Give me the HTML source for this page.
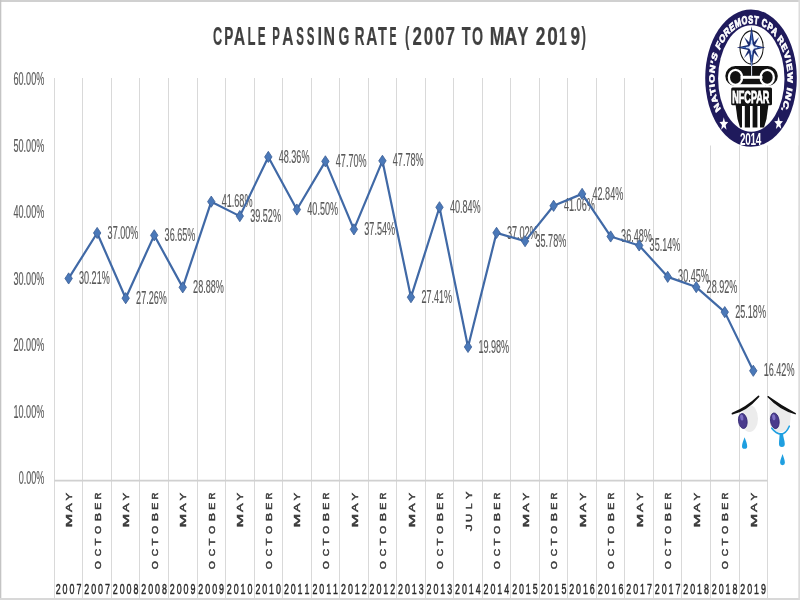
<!DOCTYPE html><html><head><meta charset="utf-8"><style>html,body{margin:0;padding:0;background:#fff;overflow:hidden}svg{display:block;filter:blur(0.3px)}text{font-family:"Liberation Sans",sans-serif}</style></head><body>
<svg width="800" height="600" viewBox="0 0 800 600">
<rect x="0" y="0" width="800" height="600" fill="#fff"/>
<rect x="0" y="0" width="800" height="2" fill="#d0d0d0"/>
<rect x="0" y="0" width="1.3" height="600" fill="#c4c4c4"/>
<rect x="0" y="598" width="800" height="2" fill="#d8d8d8"/>
<rect x="798.3" y="0" width="1.7" height="600" fill="#dcdcdc"/>
<text transform="translate(212.93,45) scale(0.500,1)" font-size="25.4" font-weight="bold" fill="#404040" stroke="#404040" stroke-width="0.2">C</text>
<text transform="translate(224.34,45) scale(0.535,1)" font-size="25.4" font-weight="bold" fill="#404040" stroke="#404040" stroke-width="0.2">P</text>
<text transform="translate(233.87,45) scale(0.621,1)" font-size="25.4" font-weight="bold" fill="#404040" stroke="#404040" stroke-width="0.2">A</text>
<text transform="translate(247.38,45) scale(0.514,1)" font-size="25.4" font-weight="bold" fill="#404040" stroke="#404040" stroke-width="0.2">L</text>
<text transform="translate(257.66,45) scale(0.464,1)" font-size="25.4" font-weight="bold" fill="#404040" stroke="#404040" stroke-width="0.2">E</text>
<text transform="translate(272.29,45) scale(0.446,1)" font-size="25.4" font-weight="bold" fill="#404040" stroke="#404040" stroke-width="0.2">P</text>
<text transform="translate(282.17,45) scale(0.609,1)" font-size="25.4" font-weight="bold" fill="#404040" stroke="#404040" stroke-width="0.2">A</text>
<text transform="translate(296.21,45) scale(0.454,1)" font-size="25.4" font-weight="bold" fill="#404040" stroke="#404040" stroke-width="0.2">S</text>
<text transform="translate(306.71,45) scale(0.454,1)" font-size="25.4" font-weight="bold" fill="#404040" stroke="#404040" stroke-width="0.2">S</text>
<text transform="translate(317.46,45) scale(0.648,1)" font-size="25.4" font-weight="bold" fill="#404040" stroke="#404040" stroke-width="0.2">I</text>
<text transform="translate(323.49,45) scale(0.628,1)" font-size="25.4" font-weight="bold" fill="#404040" stroke="#404040" stroke-width="0.2">N</text>
<text transform="translate(338.48,45) scale(0.548,1)" font-size="25.4" font-weight="bold" fill="#404040" stroke="#404040" stroke-width="0.2">G</text>
<text transform="translate(354.75,45) scale(0.531,1)" font-size="25.4" font-weight="bold" fill="#404040" stroke="#404040" stroke-width="0.2">R</text>
<text transform="translate(366.17,45) scale(0.609,1)" font-size="25.4" font-weight="bold" fill="#404040" stroke="#404040" stroke-width="0.2">A</text>
<text transform="translate(378.00,45) scale(0.571,1)" font-size="25.4" font-weight="bold" fill="#404040" stroke="#404040" stroke-width="0.2">T</text>
<text transform="translate(389.43,45) scale(0.415,1)" font-size="25.4" font-weight="bold" fill="#404040" stroke="#404040" stroke-width="0.2">E</text>
<text transform="translate(405.00,45) scale(0.516,1)" font-size="25.4" font-weight="bold" fill="#404040" stroke="#404040" stroke-width="0.2">(</text>
<text transform="translate(412.48,45) scale(0.664,1)" font-size="25.4" font-weight="bold" fill="#404040" stroke="#404040" stroke-width="0.2">2</text>
<text transform="translate(423.80,45) scale(0.660,1)" font-size="25.4" font-weight="bold" fill="#404040" stroke="#404040" stroke-width="0.2">0</text>
<text transform="translate(434.99,45) scale(0.664,1)" font-size="25.4" font-weight="bold" fill="#404040" stroke="#404040" stroke-width="0.2">0</text>
<text transform="translate(445.58,45) scale(0.673,1)" font-size="25.4" font-weight="bold" fill="#404040" stroke="#404040" stroke-width="0.2">7</text>
<text transform="translate(461.80,45) scale(0.574,1)" font-size="25.4" font-weight="bold" fill="#404040" stroke="#404040" stroke-width="0.2">T</text>
<text transform="translate(471.97,45) scale(0.560,1)" font-size="25.4" font-weight="bold" fill="#404040" stroke="#404040" stroke-width="0.2">O</text>
<text transform="translate(489.78,45) scale(0.696,1)" font-size="25.4" font-weight="bold" fill="#404040" stroke="#404040" stroke-width="0.2">M</text>
<text transform="translate(504.31,45) scale(0.725,1)" font-size="25.4" font-weight="bold" fill="#404040" stroke="#404040" stroke-width="0.2">A</text>
<text transform="translate(517.59,45) scale(0.644,1)" font-size="25.4" font-weight="bold" fill="#404040" stroke="#404040" stroke-width="0.2">Y</text>
<text transform="translate(535.66,45) scale(0.685,1)" font-size="25.4" font-weight="bold" fill="#404040" stroke="#404040" stroke-width="0.2">2</text>
<text transform="translate(547.31,45) scale(0.750,1)" font-size="25.4" font-weight="bold" fill="#404040" stroke="#404040" stroke-width="0.2">0</text>
<text transform="translate(558.98,45) scale(0.549,1)" font-size="25.4" font-weight="bold" fill="#404040" stroke="#404040" stroke-width="0.2">1</text>
<text transform="translate(570.46,45) scale(0.680,1)" font-size="25.4" font-weight="bold" fill="#404040" stroke="#404040" stroke-width="0.2">9</text>
<text transform="translate(581.54,45) scale(0.530,1)" font-size="25.4" font-weight="bold" fill="#404040" stroke="#404040" stroke-width="0.2">)</text>
<line x1="54.50" y1="78" x2="54.50" y2="598" stroke="#d9d9d9" stroke-width="1"/>
<line x1="82.50" y1="78" x2="82.50" y2="598" stroke="#d9d9d9" stroke-width="1"/>
<line x1="111.50" y1="78" x2="111.50" y2="598" stroke="#d9d9d9" stroke-width="1"/>
<line x1="139.50" y1="78" x2="139.50" y2="598" stroke="#d9d9d9" stroke-width="1"/>
<line x1="168.50" y1="78" x2="168.50" y2="598" stroke="#d9d9d9" stroke-width="1"/>
<line x1="197.50" y1="78" x2="197.50" y2="598" stroke="#d9d9d9" stroke-width="1"/>
<line x1="225.50" y1="78" x2="225.50" y2="598" stroke="#d9d9d9" stroke-width="1"/>
<line x1="254.50" y1="78" x2="254.50" y2="598" stroke="#d9d9d9" stroke-width="1"/>
<line x1="282.50" y1="78" x2="282.50" y2="598" stroke="#d9d9d9" stroke-width="1"/>
<line x1="311.50" y1="78" x2="311.50" y2="598" stroke="#d9d9d9" stroke-width="1"/>
<line x1="339.50" y1="78" x2="339.50" y2="598" stroke="#d9d9d9" stroke-width="1"/>
<line x1="368.50" y1="78" x2="368.50" y2="598" stroke="#d9d9d9" stroke-width="1"/>
<line x1="396.50" y1="78" x2="396.50" y2="598" stroke="#d9d9d9" stroke-width="1"/>
<line x1="425.50" y1="78" x2="425.50" y2="598" stroke="#d9d9d9" stroke-width="1"/>
<line x1="453.50" y1="78" x2="453.50" y2="598" stroke="#d9d9d9" stroke-width="1"/>
<line x1="482.50" y1="78" x2="482.50" y2="598" stroke="#d9d9d9" stroke-width="1"/>
<line x1="510.50" y1="78" x2="510.50" y2="598" stroke="#d9d9d9" stroke-width="1"/>
<line x1="539.50" y1="78" x2="539.50" y2="598" stroke="#d9d9d9" stroke-width="1"/>
<line x1="567.50" y1="78" x2="567.50" y2="598" stroke="#d9d9d9" stroke-width="1"/>
<line x1="596.50" y1="78" x2="596.50" y2="598" stroke="#d9d9d9" stroke-width="1"/>
<line x1="624.50" y1="78" x2="624.50" y2="598" stroke="#d9d9d9" stroke-width="1"/>
<line x1="653.50" y1="78" x2="653.50" y2="598" stroke="#d9d9d9" stroke-width="1"/>
<line x1="681.50" y1="78" x2="681.50" y2="598" stroke="#d9d9d9" stroke-width="1"/>
<line x1="710.50" y1="78" x2="710.50" y2="598" stroke="#d9d9d9" stroke-width="1"/>
<line x1="739.50" y1="78" x2="739.50" y2="598" stroke="#d9d9d9" stroke-width="1"/>
<line x1="767.50" y1="78" x2="767.50" y2="598" stroke="#d9d9d9" stroke-width="1"/>
<line x1="54.37" y1="480.6" x2="767.55" y2="480.6" stroke="#d0d0d0" stroke-width="1.6"/>
<text x="18.7" y="484.3" font-size="17.8" fill="#595959" stroke="#595959" stroke-width="0.15" textLength="25.6" lengthAdjust="spacingAndGlyphs">0.00%</text>
<text x="13.5" y="417.7" font-size="17.8" fill="#595959" stroke="#595959" stroke-width="0.15" textLength="30.8" lengthAdjust="spacingAndGlyphs">10.00%</text>
<text x="13.5" y="351.1" font-size="17.8" fill="#595959" stroke="#595959" stroke-width="0.15" textLength="30.8" lengthAdjust="spacingAndGlyphs">20.00%</text>
<text x="13.5" y="284.6" font-size="17.8" fill="#595959" stroke="#595959" stroke-width="0.15" textLength="30.8" lengthAdjust="spacingAndGlyphs">30.00%</text>
<text x="13.5" y="218.0" font-size="17.8" fill="#595959" stroke="#595959" stroke-width="0.15" textLength="30.8" lengthAdjust="spacingAndGlyphs">40.00%</text>
<text x="13.5" y="151.5" font-size="17.8" fill="#595959" stroke="#595959" stroke-width="0.15" textLength="30.8" lengthAdjust="spacingAndGlyphs">50.00%</text>
<text x="13.5" y="84.9" font-size="17.8" fill="#595959" stroke="#595959" stroke-width="0.15" textLength="30.8" lengthAdjust="spacingAndGlyphs">60.00%</text>
<text x="79.0" y="284.0" font-size="17.8" fill="#595959" stroke="#595959" stroke-width="0.15" textLength="30.8" lengthAdjust="spacingAndGlyphs">30.21%</text>
<text x="107.6" y="238.6" font-size="17.8" fill="#595959" stroke="#595959" stroke-width="0.15" textLength="30.8" lengthAdjust="spacingAndGlyphs">37.00%</text>
<text x="136.1" y="303.8" font-size="17.8" fill="#595959" stroke="#595959" stroke-width="0.15" textLength="30.8" lengthAdjust="spacingAndGlyphs">27.26%</text>
<text x="164.6" y="240.9" font-size="17.8" fill="#595959" stroke="#595959" stroke-width="0.15" textLength="30.8" lengthAdjust="spacingAndGlyphs">36.65%</text>
<text x="193.1" y="292.9" font-size="17.8" fill="#595959" stroke="#595959" stroke-width="0.15" textLength="30.8" lengthAdjust="spacingAndGlyphs">28.88%</text>
<text x="221.7" y="207.3" font-size="17.8" fill="#595959" stroke="#595959" stroke-width="0.15" textLength="30.8" lengthAdjust="spacingAndGlyphs">41.68%</text>
<text x="250.2" y="221.7" font-size="17.8" fill="#595959" stroke="#595959" stroke-width="0.15" textLength="30.8" lengthAdjust="spacingAndGlyphs">39.52%</text>
<text x="278.7" y="162.5" font-size="17.8" fill="#595959" stroke="#595959" stroke-width="0.15" textLength="30.8" lengthAdjust="spacingAndGlyphs">48.36%</text>
<text x="307.3" y="215.2" font-size="17.8" fill="#595959" stroke="#595959" stroke-width="0.15" textLength="30.8" lengthAdjust="spacingAndGlyphs">40.50%</text>
<text x="335.8" y="166.9" font-size="17.8" fill="#595959" stroke="#595959" stroke-width="0.15" textLength="30.8" lengthAdjust="spacingAndGlyphs">47.70%</text>
<text x="364.3" y="235.0" font-size="17.8" fill="#595959" stroke="#595959" stroke-width="0.15" textLength="30.8" lengthAdjust="spacingAndGlyphs">37.54%</text>
<text x="392.8" y="166.4" font-size="17.8" fill="#595959" stroke="#595959" stroke-width="0.15" textLength="30.8" lengthAdjust="spacingAndGlyphs">47.78%</text>
<text x="421.4" y="302.8" font-size="17.8" fill="#595959" stroke="#595959" stroke-width="0.15" textLength="30.8" lengthAdjust="spacingAndGlyphs">27.41%</text>
<text x="449.9" y="212.9" font-size="17.8" fill="#595959" stroke="#595959" stroke-width="0.15" textLength="30.8" lengthAdjust="spacingAndGlyphs">40.84%</text>
<text x="478.4" y="352.5" font-size="17.8" fill="#595959" stroke="#595959" stroke-width="0.15" textLength="30.8" lengthAdjust="spacingAndGlyphs">19.98%</text>
<text x="506.9" y="238.5" font-size="17.8" fill="#595959" stroke="#595959" stroke-width="0.15" textLength="30.8" lengthAdjust="spacingAndGlyphs">37.02%</text>
<text x="535.5" y="246.8" font-size="17.8" fill="#595959" stroke="#595959" stroke-width="0.15" textLength="30.8" lengthAdjust="spacingAndGlyphs">35.78%</text>
<text x="564.0" y="211.4" font-size="17.8" fill="#595959" stroke="#595959" stroke-width="0.15" textLength="30.8" lengthAdjust="spacingAndGlyphs">41.06%</text>
<text x="592.5" y="199.5" font-size="17.8" fill="#595959" stroke="#595959" stroke-width="0.15" textLength="30.8" lengthAdjust="spacingAndGlyphs">42.84%</text>
<text x="621.1" y="242.1" font-size="17.8" fill="#595959" stroke="#595959" stroke-width="0.15" textLength="30.8" lengthAdjust="spacingAndGlyphs">36.48%</text>
<text x="649.6" y="251.0" font-size="17.8" fill="#595959" stroke="#595959" stroke-width="0.15" textLength="30.8" lengthAdjust="spacingAndGlyphs">35.14%</text>
<text x="678.1" y="282.4" font-size="17.8" fill="#595959" stroke="#595959" stroke-width="0.15" textLength="30.8" lengthAdjust="spacingAndGlyphs">30.45%</text>
<text x="706.6" y="292.7" font-size="17.8" fill="#595959" stroke="#595959" stroke-width="0.15" textLength="30.8" lengthAdjust="spacingAndGlyphs">28.92%</text>
<text x="735.2" y="317.7" font-size="17.8" fill="#595959" stroke="#595959" stroke-width="0.15" textLength="30.8" lengthAdjust="spacingAndGlyphs">25.18%</text>
<text x="763.7" y="376.4" font-size="17.8" fill="#595959" stroke="#595959" stroke-width="0.15" textLength="30.8" lengthAdjust="spacingAndGlyphs">16.42%</text>
<polyline points="68.63,278.44 97.16,232.98 125.69,298.19 154.22,235.33 182.74,287.35 211.27,201.65 239.80,216.11 268.32,156.93 296.85,209.55 325.38,161.35 353.91,229.37 382.43,160.81 410.96,297.19 439.49,207.28 468.01,346.93 496.54,232.85 525.07,241.15 553.60,205.80 582.12,193.89 610.65,236.47 639.18,245.44 667.70,276.84 696.23,287.08 724.76,312.12 753.29,370.77" fill="none" stroke="#4069a6" stroke-width="2.2" stroke-linejoin="round"/>
<path d="M68.63 272.84L72.33 278.44L68.63 284.04L64.93 278.44Z" fill="#4a78b8" stroke="#3a5d94" stroke-width="0.8"/>
<path d="M97.16 227.38L100.86 232.98L97.16 238.58L93.46 232.98Z" fill="#4a78b8" stroke="#3a5d94" stroke-width="0.8"/>
<path d="M125.69 292.59L129.39 298.19L125.69 303.79L121.99 298.19Z" fill="#4a78b8" stroke="#3a5d94" stroke-width="0.8"/>
<path d="M154.22 229.73L157.92 235.33L154.22 240.93L150.52 235.33Z" fill="#4a78b8" stroke="#3a5d94" stroke-width="0.8"/>
<path d="M182.74 281.75L186.44 287.35L182.74 292.95L179.04 287.35Z" fill="#4a78b8" stroke="#3a5d94" stroke-width="0.8"/>
<path d="M211.27 196.05L214.97 201.65L211.27 207.25L207.57 201.65Z" fill="#4a78b8" stroke="#3a5d94" stroke-width="0.8"/>
<path d="M239.80 210.51L243.50 216.11L239.80 221.71L236.10 216.11Z" fill="#4a78b8" stroke="#3a5d94" stroke-width="0.8"/>
<path d="M268.32 151.33L272.02 156.93L268.32 162.53L264.62 156.93Z" fill="#4a78b8" stroke="#3a5d94" stroke-width="0.8"/>
<path d="M296.85 203.95L300.55 209.55L296.85 215.15L293.15 209.55Z" fill="#4a78b8" stroke="#3a5d94" stroke-width="0.8"/>
<path d="M325.38 155.75L329.08 161.35L325.38 166.95L321.68 161.35Z" fill="#4a78b8" stroke="#3a5d94" stroke-width="0.8"/>
<path d="M353.91 223.77L357.61 229.37L353.91 234.97L350.21 229.37Z" fill="#4a78b8" stroke="#3a5d94" stroke-width="0.8"/>
<path d="M382.43 155.21L386.13 160.81L382.43 166.41L378.73 160.81Z" fill="#4a78b8" stroke="#3a5d94" stroke-width="0.8"/>
<path d="M410.96 291.59L414.66 297.19L410.96 302.79L407.26 297.19Z" fill="#4a78b8" stroke="#3a5d94" stroke-width="0.8"/>
<path d="M439.49 201.68L443.19 207.28L439.49 212.88L435.79 207.28Z" fill="#4a78b8" stroke="#3a5d94" stroke-width="0.8"/>
<path d="M468.01 341.33L471.71 346.93L468.01 352.53L464.31 346.93Z" fill="#4a78b8" stroke="#3a5d94" stroke-width="0.8"/>
<path d="M496.54 227.25L500.24 232.85L496.54 238.45L492.84 232.85Z" fill="#4a78b8" stroke="#3a5d94" stroke-width="0.8"/>
<path d="M525.07 235.55L528.77 241.15L525.07 246.75L521.37 241.15Z" fill="#4a78b8" stroke="#3a5d94" stroke-width="0.8"/>
<path d="M553.60 200.20L557.30 205.80L553.60 211.40L549.90 205.80Z" fill="#4a78b8" stroke="#3a5d94" stroke-width="0.8"/>
<path d="M582.12 188.29L585.82 193.89L582.12 199.49L578.42 193.89Z" fill="#4a78b8" stroke="#3a5d94" stroke-width="0.8"/>
<path d="M610.65 230.87L614.35 236.47L610.65 242.07L606.95 236.47Z" fill="#4a78b8" stroke="#3a5d94" stroke-width="0.8"/>
<path d="M639.18 239.84L642.88 245.44L639.18 251.04L635.48 245.44Z" fill="#4a78b8" stroke="#3a5d94" stroke-width="0.8"/>
<path d="M667.70 271.24L671.40 276.84L667.70 282.44L664.00 276.84Z" fill="#4a78b8" stroke="#3a5d94" stroke-width="0.8"/>
<path d="M696.23 281.48L699.93 287.08L696.23 292.68L692.53 287.08Z" fill="#4a78b8" stroke="#3a5d94" stroke-width="0.8"/>
<path d="M724.76 306.52L728.46 312.12L724.76 317.72L721.06 312.12Z" fill="#4a78b8" stroke="#3a5d94" stroke-width="0.8"/>
<path d="M753.29 365.17L756.99 370.77L753.29 376.37L749.59 370.77Z" fill="#4a78b8" stroke="#3a5d94" stroke-width="0.8"/>
<text transform="translate(72.23,526.60) rotate(-90) scale(1.966,1)" x="-0.46" font-size="8.3" fill="#3a3a3a" stroke="#3a3a3a" stroke-width="0.45">M</text>
<text transform="translate(72.23,512.30) rotate(-90) scale(1.562,1)" x="0.21" font-size="8.3" fill="#3a3a3a" stroke="#3a3a3a" stroke-width="0.45">A</text>
<text transform="translate(72.23,500.50) rotate(-90) scale(1.370,1)" x="0.04" font-size="8.3" fill="#3a3a3a" stroke="#3a3a3a" stroke-width="0.45">Y</text>
<text transform="translate(100.76,569.10) rotate(-90) scale(1.258,1)" x="-0.17" font-size="8.3" fill="#3a3a3a" stroke="#3a3a3a" stroke-width="0.45">O</text>
<text transform="translate(100.76,555.90) rotate(-90) scale(1.227,1)" x="-0.20" font-size="8.3" fill="#3a3a3a" stroke="#3a3a3a" stroke-width="0.45">C</text>
<text transform="translate(100.76,545.60) rotate(-90) scale(1.360,1)" x="0.04" font-size="8.3" fill="#3a3a3a" stroke="#3a3a3a" stroke-width="0.45">T</text>
<text transform="translate(100.76,533.90) rotate(-90) scale(1.275,1)" x="-0.17" font-size="8.3" fill="#3a3a3a" stroke="#3a3a3a" stroke-width="0.45">O</text>
<text transform="translate(100.76,520.60) rotate(-90) scale(1.500,1)" x="-0.46" font-size="8.3" fill="#3a3a3a" stroke="#3a3a3a" stroke-width="0.45">B</text>
<text transform="translate(100.76,509.30) rotate(-90) scale(1.273,1)" x="-0.46" font-size="8.3" fill="#3a3a3a" stroke="#3a3a3a" stroke-width="0.45">E</text>
<text transform="translate(100.76,499.00) rotate(-90) scale(1.154,1)" x="-0.46" font-size="8.3" fill="#3a3a3a" stroke="#3a3a3a" stroke-width="0.45">R</text>
<text transform="translate(129.29,526.60) rotate(-90) scale(1.966,1)" x="-0.46" font-size="8.3" fill="#3a3a3a" stroke="#3a3a3a" stroke-width="0.45">M</text>
<text transform="translate(129.29,512.30) rotate(-90) scale(1.562,1)" x="0.21" font-size="8.3" fill="#3a3a3a" stroke="#3a3a3a" stroke-width="0.45">A</text>
<text transform="translate(129.29,500.50) rotate(-90) scale(1.370,1)" x="0.04" font-size="8.3" fill="#3a3a3a" stroke="#3a3a3a" stroke-width="0.45">Y</text>
<text transform="translate(157.82,569.10) rotate(-90) scale(1.258,1)" x="-0.17" font-size="8.3" fill="#3a3a3a" stroke="#3a3a3a" stroke-width="0.45">O</text>
<text transform="translate(157.82,555.90) rotate(-90) scale(1.227,1)" x="-0.20" font-size="8.3" fill="#3a3a3a" stroke="#3a3a3a" stroke-width="0.45">C</text>
<text transform="translate(157.82,545.60) rotate(-90) scale(1.360,1)" x="0.04" font-size="8.3" fill="#3a3a3a" stroke="#3a3a3a" stroke-width="0.45">T</text>
<text transform="translate(157.82,533.90) rotate(-90) scale(1.275,1)" x="-0.17" font-size="8.3" fill="#3a3a3a" stroke="#3a3a3a" stroke-width="0.45">O</text>
<text transform="translate(157.82,520.60) rotate(-90) scale(1.500,1)" x="-0.46" font-size="8.3" fill="#3a3a3a" stroke="#3a3a3a" stroke-width="0.45">B</text>
<text transform="translate(157.82,509.30) rotate(-90) scale(1.273,1)" x="-0.46" font-size="8.3" fill="#3a3a3a" stroke="#3a3a3a" stroke-width="0.45">E</text>
<text transform="translate(157.82,499.00) rotate(-90) scale(1.154,1)" x="-0.46" font-size="8.3" fill="#3a3a3a" stroke="#3a3a3a" stroke-width="0.45">R</text>
<text transform="translate(186.34,526.60) rotate(-90) scale(1.966,1)" x="-0.46" font-size="8.3" fill="#3a3a3a" stroke="#3a3a3a" stroke-width="0.45">M</text>
<text transform="translate(186.34,512.30) rotate(-90) scale(1.562,1)" x="0.21" font-size="8.3" fill="#3a3a3a" stroke="#3a3a3a" stroke-width="0.45">A</text>
<text transform="translate(186.34,500.50) rotate(-90) scale(1.370,1)" x="0.04" font-size="8.3" fill="#3a3a3a" stroke="#3a3a3a" stroke-width="0.45">Y</text>
<text transform="translate(214.87,569.10) rotate(-90) scale(1.258,1)" x="-0.17" font-size="8.3" fill="#3a3a3a" stroke="#3a3a3a" stroke-width="0.45">O</text>
<text transform="translate(214.87,555.90) rotate(-90) scale(1.227,1)" x="-0.20" font-size="8.3" fill="#3a3a3a" stroke="#3a3a3a" stroke-width="0.45">C</text>
<text transform="translate(214.87,545.60) rotate(-90) scale(1.360,1)" x="0.04" font-size="8.3" fill="#3a3a3a" stroke="#3a3a3a" stroke-width="0.45">T</text>
<text transform="translate(214.87,533.90) rotate(-90) scale(1.275,1)" x="-0.17" font-size="8.3" fill="#3a3a3a" stroke="#3a3a3a" stroke-width="0.45">O</text>
<text transform="translate(214.87,520.60) rotate(-90) scale(1.500,1)" x="-0.46" font-size="8.3" fill="#3a3a3a" stroke="#3a3a3a" stroke-width="0.45">B</text>
<text transform="translate(214.87,509.30) rotate(-90) scale(1.273,1)" x="-0.46" font-size="8.3" fill="#3a3a3a" stroke="#3a3a3a" stroke-width="0.45">E</text>
<text transform="translate(214.87,499.00) rotate(-90) scale(1.154,1)" x="-0.46" font-size="8.3" fill="#3a3a3a" stroke="#3a3a3a" stroke-width="0.45">R</text>
<text transform="translate(243.40,526.60) rotate(-90) scale(1.966,1)" x="-0.46" font-size="8.3" fill="#3a3a3a" stroke="#3a3a3a" stroke-width="0.45">M</text>
<text transform="translate(243.40,512.30) rotate(-90) scale(1.562,1)" x="0.21" font-size="8.3" fill="#3a3a3a" stroke="#3a3a3a" stroke-width="0.45">A</text>
<text transform="translate(243.40,500.50) rotate(-90) scale(1.370,1)" x="0.04" font-size="8.3" fill="#3a3a3a" stroke="#3a3a3a" stroke-width="0.45">Y</text>
<text transform="translate(271.92,569.10) rotate(-90) scale(1.258,1)" x="-0.17" font-size="8.3" fill="#3a3a3a" stroke="#3a3a3a" stroke-width="0.45">O</text>
<text transform="translate(271.92,555.90) rotate(-90) scale(1.227,1)" x="-0.20" font-size="8.3" fill="#3a3a3a" stroke="#3a3a3a" stroke-width="0.45">C</text>
<text transform="translate(271.92,545.60) rotate(-90) scale(1.360,1)" x="0.04" font-size="8.3" fill="#3a3a3a" stroke="#3a3a3a" stroke-width="0.45">T</text>
<text transform="translate(271.92,533.90) rotate(-90) scale(1.275,1)" x="-0.17" font-size="8.3" fill="#3a3a3a" stroke="#3a3a3a" stroke-width="0.45">O</text>
<text transform="translate(271.92,520.60) rotate(-90) scale(1.500,1)" x="-0.46" font-size="8.3" fill="#3a3a3a" stroke="#3a3a3a" stroke-width="0.45">B</text>
<text transform="translate(271.92,509.30) rotate(-90) scale(1.273,1)" x="-0.46" font-size="8.3" fill="#3a3a3a" stroke="#3a3a3a" stroke-width="0.45">E</text>
<text transform="translate(271.92,499.00) rotate(-90) scale(1.154,1)" x="-0.46" font-size="8.3" fill="#3a3a3a" stroke="#3a3a3a" stroke-width="0.45">R</text>
<text transform="translate(300.45,526.60) rotate(-90) scale(1.966,1)" x="-0.46" font-size="8.3" fill="#3a3a3a" stroke="#3a3a3a" stroke-width="0.45">M</text>
<text transform="translate(300.45,512.30) rotate(-90) scale(1.562,1)" x="0.21" font-size="8.3" fill="#3a3a3a" stroke="#3a3a3a" stroke-width="0.45">A</text>
<text transform="translate(300.45,500.50) rotate(-90) scale(1.370,1)" x="0.04" font-size="8.3" fill="#3a3a3a" stroke="#3a3a3a" stroke-width="0.45">Y</text>
<text transform="translate(328.98,569.10) rotate(-90) scale(1.258,1)" x="-0.17" font-size="8.3" fill="#3a3a3a" stroke="#3a3a3a" stroke-width="0.45">O</text>
<text transform="translate(328.98,555.90) rotate(-90) scale(1.227,1)" x="-0.20" font-size="8.3" fill="#3a3a3a" stroke="#3a3a3a" stroke-width="0.45">C</text>
<text transform="translate(328.98,545.60) rotate(-90) scale(1.360,1)" x="0.04" font-size="8.3" fill="#3a3a3a" stroke="#3a3a3a" stroke-width="0.45">T</text>
<text transform="translate(328.98,533.90) rotate(-90) scale(1.275,1)" x="-0.17" font-size="8.3" fill="#3a3a3a" stroke="#3a3a3a" stroke-width="0.45">O</text>
<text transform="translate(328.98,520.60) rotate(-90) scale(1.500,1)" x="-0.46" font-size="8.3" fill="#3a3a3a" stroke="#3a3a3a" stroke-width="0.45">B</text>
<text transform="translate(328.98,509.30) rotate(-90) scale(1.273,1)" x="-0.46" font-size="8.3" fill="#3a3a3a" stroke="#3a3a3a" stroke-width="0.45">E</text>
<text transform="translate(328.98,499.00) rotate(-90) scale(1.154,1)" x="-0.46" font-size="8.3" fill="#3a3a3a" stroke="#3a3a3a" stroke-width="0.45">R</text>
<text transform="translate(357.51,526.60) rotate(-90) scale(1.966,1)" x="-0.46" font-size="8.3" fill="#3a3a3a" stroke="#3a3a3a" stroke-width="0.45">M</text>
<text transform="translate(357.51,512.30) rotate(-90) scale(1.562,1)" x="0.21" font-size="8.3" fill="#3a3a3a" stroke="#3a3a3a" stroke-width="0.45">A</text>
<text transform="translate(357.51,500.50) rotate(-90) scale(1.370,1)" x="0.04" font-size="8.3" fill="#3a3a3a" stroke="#3a3a3a" stroke-width="0.45">Y</text>
<text transform="translate(386.03,569.10) rotate(-90) scale(1.258,1)" x="-0.17" font-size="8.3" fill="#3a3a3a" stroke="#3a3a3a" stroke-width="0.45">O</text>
<text transform="translate(386.03,555.90) rotate(-90) scale(1.227,1)" x="-0.20" font-size="8.3" fill="#3a3a3a" stroke="#3a3a3a" stroke-width="0.45">C</text>
<text transform="translate(386.03,545.60) rotate(-90) scale(1.360,1)" x="0.04" font-size="8.3" fill="#3a3a3a" stroke="#3a3a3a" stroke-width="0.45">T</text>
<text transform="translate(386.03,533.90) rotate(-90) scale(1.275,1)" x="-0.17" font-size="8.3" fill="#3a3a3a" stroke="#3a3a3a" stroke-width="0.45">O</text>
<text transform="translate(386.03,520.60) rotate(-90) scale(1.500,1)" x="-0.46" font-size="8.3" fill="#3a3a3a" stroke="#3a3a3a" stroke-width="0.45">B</text>
<text transform="translate(386.03,509.30) rotate(-90) scale(1.273,1)" x="-0.46" font-size="8.3" fill="#3a3a3a" stroke="#3a3a3a" stroke-width="0.45">E</text>
<text transform="translate(386.03,499.00) rotate(-90) scale(1.154,1)" x="-0.46" font-size="8.3" fill="#3a3a3a" stroke="#3a3a3a" stroke-width="0.45">R</text>
<text transform="translate(414.56,526.60) rotate(-90) scale(1.966,1)" x="-0.46" font-size="8.3" fill="#3a3a3a" stroke="#3a3a3a" stroke-width="0.45">M</text>
<text transform="translate(414.56,512.30) rotate(-90) scale(1.562,1)" x="0.21" font-size="8.3" fill="#3a3a3a" stroke="#3a3a3a" stroke-width="0.45">A</text>
<text transform="translate(414.56,500.50) rotate(-90) scale(1.370,1)" x="0.04" font-size="8.3" fill="#3a3a3a" stroke="#3a3a3a" stroke-width="0.45">Y</text>
<text transform="translate(443.09,569.10) rotate(-90) scale(1.258,1)" x="-0.17" font-size="8.3" fill="#3a3a3a" stroke="#3a3a3a" stroke-width="0.45">O</text>
<text transform="translate(443.09,555.90) rotate(-90) scale(1.227,1)" x="-0.20" font-size="8.3" fill="#3a3a3a" stroke="#3a3a3a" stroke-width="0.45">C</text>
<text transform="translate(443.09,545.60) rotate(-90) scale(1.360,1)" x="0.04" font-size="8.3" fill="#3a3a3a" stroke="#3a3a3a" stroke-width="0.45">T</text>
<text transform="translate(443.09,533.90) rotate(-90) scale(1.275,1)" x="-0.17" font-size="8.3" fill="#3a3a3a" stroke="#3a3a3a" stroke-width="0.45">O</text>
<text transform="translate(443.09,520.60) rotate(-90) scale(1.500,1)" x="-0.46" font-size="8.3" fill="#3a3a3a" stroke="#3a3a3a" stroke-width="0.45">B</text>
<text transform="translate(443.09,509.30) rotate(-90) scale(1.273,1)" x="-0.46" font-size="8.3" fill="#3a3a3a" stroke="#3a3a3a" stroke-width="0.45">E</text>
<text transform="translate(443.09,499.00) rotate(-90) scale(1.154,1)" x="-0.46" font-size="8.3" fill="#3a3a3a" stroke="#3a3a3a" stroke-width="0.45">R</text>
<text transform="translate(471.61,531.50) rotate(-90) scale(1.687,1)" x="0.09" font-size="8.3" fill="#3a3a3a" stroke="#3a3a3a" stroke-width="0.45">J</text>
<text transform="translate(471.61,521.50) rotate(-90) scale(1.355,1)" x="-0.41" font-size="8.3" fill="#3a3a3a" stroke="#3a3a3a" stroke-width="0.45">U</text>
<text transform="translate(471.61,508.50) rotate(-90) scale(1.216,1)" x="-0.46" font-size="8.3" fill="#3a3a3a" stroke="#3a3a3a" stroke-width="0.45">L</text>
<text transform="translate(471.61,499.00) rotate(-90) scale(1.334,1)" x="0.04" font-size="8.3" fill="#3a3a3a" stroke="#3a3a3a" stroke-width="0.45">Y</text>
<text transform="translate(500.14,569.10) rotate(-90) scale(1.258,1)" x="-0.17" font-size="8.3" fill="#3a3a3a" stroke="#3a3a3a" stroke-width="0.45">O</text>
<text transform="translate(500.14,555.90) rotate(-90) scale(1.227,1)" x="-0.20" font-size="8.3" fill="#3a3a3a" stroke="#3a3a3a" stroke-width="0.45">C</text>
<text transform="translate(500.14,545.60) rotate(-90) scale(1.360,1)" x="0.04" font-size="8.3" fill="#3a3a3a" stroke="#3a3a3a" stroke-width="0.45">T</text>
<text transform="translate(500.14,533.90) rotate(-90) scale(1.275,1)" x="-0.17" font-size="8.3" fill="#3a3a3a" stroke="#3a3a3a" stroke-width="0.45">O</text>
<text transform="translate(500.14,520.60) rotate(-90) scale(1.500,1)" x="-0.46" font-size="8.3" fill="#3a3a3a" stroke="#3a3a3a" stroke-width="0.45">B</text>
<text transform="translate(500.14,509.30) rotate(-90) scale(1.273,1)" x="-0.46" font-size="8.3" fill="#3a3a3a" stroke="#3a3a3a" stroke-width="0.45">E</text>
<text transform="translate(500.14,499.00) rotate(-90) scale(1.154,1)" x="-0.46" font-size="8.3" fill="#3a3a3a" stroke="#3a3a3a" stroke-width="0.45">R</text>
<text transform="translate(528.67,526.60) rotate(-90) scale(1.966,1)" x="-0.46" font-size="8.3" fill="#3a3a3a" stroke="#3a3a3a" stroke-width="0.45">M</text>
<text transform="translate(528.67,512.30) rotate(-90) scale(1.562,1)" x="0.21" font-size="8.3" fill="#3a3a3a" stroke="#3a3a3a" stroke-width="0.45">A</text>
<text transform="translate(528.67,500.50) rotate(-90) scale(1.370,1)" x="0.04" font-size="8.3" fill="#3a3a3a" stroke="#3a3a3a" stroke-width="0.45">Y</text>
<text transform="translate(557.20,569.10) rotate(-90) scale(1.258,1)" x="-0.17" font-size="8.3" fill="#3a3a3a" stroke="#3a3a3a" stroke-width="0.45">O</text>
<text transform="translate(557.20,555.90) rotate(-90) scale(1.227,1)" x="-0.20" font-size="8.3" fill="#3a3a3a" stroke="#3a3a3a" stroke-width="0.45">C</text>
<text transform="translate(557.20,545.60) rotate(-90) scale(1.360,1)" x="0.04" font-size="8.3" fill="#3a3a3a" stroke="#3a3a3a" stroke-width="0.45">T</text>
<text transform="translate(557.20,533.90) rotate(-90) scale(1.275,1)" x="-0.17" font-size="8.3" fill="#3a3a3a" stroke="#3a3a3a" stroke-width="0.45">O</text>
<text transform="translate(557.20,520.60) rotate(-90) scale(1.500,1)" x="-0.46" font-size="8.3" fill="#3a3a3a" stroke="#3a3a3a" stroke-width="0.45">B</text>
<text transform="translate(557.20,509.30) rotate(-90) scale(1.273,1)" x="-0.46" font-size="8.3" fill="#3a3a3a" stroke="#3a3a3a" stroke-width="0.45">E</text>
<text transform="translate(557.20,499.00) rotate(-90) scale(1.154,1)" x="-0.46" font-size="8.3" fill="#3a3a3a" stroke="#3a3a3a" stroke-width="0.45">R</text>
<text transform="translate(585.72,526.60) rotate(-90) scale(1.966,1)" x="-0.46" font-size="8.3" fill="#3a3a3a" stroke="#3a3a3a" stroke-width="0.45">M</text>
<text transform="translate(585.72,512.30) rotate(-90) scale(1.562,1)" x="0.21" font-size="8.3" fill="#3a3a3a" stroke="#3a3a3a" stroke-width="0.45">A</text>
<text transform="translate(585.72,500.50) rotate(-90) scale(1.370,1)" x="0.04" font-size="8.3" fill="#3a3a3a" stroke="#3a3a3a" stroke-width="0.45">Y</text>
<text transform="translate(614.25,569.10) rotate(-90) scale(1.258,1)" x="-0.17" font-size="8.3" fill="#3a3a3a" stroke="#3a3a3a" stroke-width="0.45">O</text>
<text transform="translate(614.25,555.90) rotate(-90) scale(1.227,1)" x="-0.20" font-size="8.3" fill="#3a3a3a" stroke="#3a3a3a" stroke-width="0.45">C</text>
<text transform="translate(614.25,545.60) rotate(-90) scale(1.360,1)" x="0.04" font-size="8.3" fill="#3a3a3a" stroke="#3a3a3a" stroke-width="0.45">T</text>
<text transform="translate(614.25,533.90) rotate(-90) scale(1.275,1)" x="-0.17" font-size="8.3" fill="#3a3a3a" stroke="#3a3a3a" stroke-width="0.45">O</text>
<text transform="translate(614.25,520.60) rotate(-90) scale(1.500,1)" x="-0.46" font-size="8.3" fill="#3a3a3a" stroke="#3a3a3a" stroke-width="0.45">B</text>
<text transform="translate(614.25,509.30) rotate(-90) scale(1.273,1)" x="-0.46" font-size="8.3" fill="#3a3a3a" stroke="#3a3a3a" stroke-width="0.45">E</text>
<text transform="translate(614.25,499.00) rotate(-90) scale(1.154,1)" x="-0.46" font-size="8.3" fill="#3a3a3a" stroke="#3a3a3a" stroke-width="0.45">R</text>
<text transform="translate(642.78,526.60) rotate(-90) scale(1.966,1)" x="-0.46" font-size="8.3" fill="#3a3a3a" stroke="#3a3a3a" stroke-width="0.45">M</text>
<text transform="translate(642.78,512.30) rotate(-90) scale(1.562,1)" x="0.21" font-size="8.3" fill="#3a3a3a" stroke="#3a3a3a" stroke-width="0.45">A</text>
<text transform="translate(642.78,500.50) rotate(-90) scale(1.370,1)" x="0.04" font-size="8.3" fill="#3a3a3a" stroke="#3a3a3a" stroke-width="0.45">Y</text>
<text transform="translate(671.30,569.10) rotate(-90) scale(1.258,1)" x="-0.17" font-size="8.3" fill="#3a3a3a" stroke="#3a3a3a" stroke-width="0.45">O</text>
<text transform="translate(671.30,555.90) rotate(-90) scale(1.227,1)" x="-0.20" font-size="8.3" fill="#3a3a3a" stroke="#3a3a3a" stroke-width="0.45">C</text>
<text transform="translate(671.30,545.60) rotate(-90) scale(1.360,1)" x="0.04" font-size="8.3" fill="#3a3a3a" stroke="#3a3a3a" stroke-width="0.45">T</text>
<text transform="translate(671.30,533.90) rotate(-90) scale(1.275,1)" x="-0.17" font-size="8.3" fill="#3a3a3a" stroke="#3a3a3a" stroke-width="0.45">O</text>
<text transform="translate(671.30,520.60) rotate(-90) scale(1.500,1)" x="-0.46" font-size="8.3" fill="#3a3a3a" stroke="#3a3a3a" stroke-width="0.45">B</text>
<text transform="translate(671.30,509.30) rotate(-90) scale(1.273,1)" x="-0.46" font-size="8.3" fill="#3a3a3a" stroke="#3a3a3a" stroke-width="0.45">E</text>
<text transform="translate(671.30,499.00) rotate(-90) scale(1.154,1)" x="-0.46" font-size="8.3" fill="#3a3a3a" stroke="#3a3a3a" stroke-width="0.45">R</text>
<text transform="translate(699.83,526.60) rotate(-90) scale(1.966,1)" x="-0.46" font-size="8.3" fill="#3a3a3a" stroke="#3a3a3a" stroke-width="0.45">M</text>
<text transform="translate(699.83,512.30) rotate(-90) scale(1.562,1)" x="0.21" font-size="8.3" fill="#3a3a3a" stroke="#3a3a3a" stroke-width="0.45">A</text>
<text transform="translate(699.83,500.50) rotate(-90) scale(1.370,1)" x="0.04" font-size="8.3" fill="#3a3a3a" stroke="#3a3a3a" stroke-width="0.45">Y</text>
<text transform="translate(728.36,569.10) rotate(-90) scale(1.258,1)" x="-0.17" font-size="8.3" fill="#3a3a3a" stroke="#3a3a3a" stroke-width="0.45">O</text>
<text transform="translate(728.36,555.90) rotate(-90) scale(1.227,1)" x="-0.20" font-size="8.3" fill="#3a3a3a" stroke="#3a3a3a" stroke-width="0.45">C</text>
<text transform="translate(728.36,545.60) rotate(-90) scale(1.360,1)" x="0.04" font-size="8.3" fill="#3a3a3a" stroke="#3a3a3a" stroke-width="0.45">T</text>
<text transform="translate(728.36,533.90) rotate(-90) scale(1.275,1)" x="-0.17" font-size="8.3" fill="#3a3a3a" stroke="#3a3a3a" stroke-width="0.45">O</text>
<text transform="translate(728.36,520.60) rotate(-90) scale(1.500,1)" x="-0.46" font-size="8.3" fill="#3a3a3a" stroke="#3a3a3a" stroke-width="0.45">B</text>
<text transform="translate(728.36,509.30) rotate(-90) scale(1.273,1)" x="-0.46" font-size="8.3" fill="#3a3a3a" stroke="#3a3a3a" stroke-width="0.45">E</text>
<text transform="translate(728.36,499.00) rotate(-90) scale(1.154,1)" x="-0.46" font-size="8.3" fill="#3a3a3a" stroke="#3a3a3a" stroke-width="0.45">R</text>
<text transform="translate(756.89,526.60) rotate(-90) scale(1.966,1)" x="-0.46" font-size="8.3" fill="#3a3a3a" stroke="#3a3a3a" stroke-width="0.45">M</text>
<text transform="translate(756.89,512.30) rotate(-90) scale(1.562,1)" x="0.21" font-size="8.3" fill="#3a3a3a" stroke="#3a3a3a" stroke-width="0.45">A</text>
<text transform="translate(756.89,500.50) rotate(-90) scale(1.370,1)" x="0.04" font-size="8.3" fill="#3a3a3a" stroke="#3a3a3a" stroke-width="0.45">Y</text>
<text transform="translate(55.71,593.9) scale(0.61,1)" font-size="14.6" fill="#2a2a2a" stroke="#2a2a2a" stroke-width="0.45">2</text>
<text transform="translate(62.61,593.9) scale(0.61,1)" font-size="14.6" fill="#2a2a2a" stroke="#2a2a2a" stroke-width="0.45">0</text>
<text transform="translate(69.51,593.9) scale(0.61,1)" font-size="14.6" fill="#2a2a2a" stroke="#2a2a2a" stroke-width="0.45">0</text>
<text transform="translate(76.40,593.9) scale(0.61,1)" font-size="14.6" fill="#2a2a2a" stroke="#2a2a2a" stroke-width="0.45">7</text>
<text transform="translate(84.23,593.9) scale(0.61,1)" font-size="14.6" fill="#2a2a2a" stroke="#2a2a2a" stroke-width="0.45">2</text>
<text transform="translate(91.13,593.9) scale(0.61,1)" font-size="14.6" fill="#2a2a2a" stroke="#2a2a2a" stroke-width="0.45">0</text>
<text transform="translate(98.03,593.9) scale(0.61,1)" font-size="14.6" fill="#2a2a2a" stroke="#2a2a2a" stroke-width="0.45">0</text>
<text transform="translate(104.93,593.9) scale(0.61,1)" font-size="14.6" fill="#2a2a2a" stroke="#2a2a2a" stroke-width="0.45">7</text>
<text transform="translate(112.76,593.9) scale(0.61,1)" font-size="14.6" fill="#2a2a2a" stroke="#2a2a2a" stroke-width="0.45">2</text>
<text transform="translate(119.66,593.9) scale(0.61,1)" font-size="14.6" fill="#2a2a2a" stroke="#2a2a2a" stroke-width="0.45">0</text>
<text transform="translate(126.56,593.9) scale(0.61,1)" font-size="14.6" fill="#2a2a2a" stroke="#2a2a2a" stroke-width="0.45">0</text>
<text transform="translate(133.46,593.9) scale(0.61,1)" font-size="14.6" fill="#2a2a2a" stroke="#2a2a2a" stroke-width="0.45">8</text>
<text transform="translate(141.29,593.9) scale(0.61,1)" font-size="14.6" fill="#2a2a2a" stroke="#2a2a2a" stroke-width="0.45">2</text>
<text transform="translate(148.19,593.9) scale(0.61,1)" font-size="14.6" fill="#2a2a2a" stroke="#2a2a2a" stroke-width="0.45">0</text>
<text transform="translate(155.09,593.9) scale(0.61,1)" font-size="14.6" fill="#2a2a2a" stroke="#2a2a2a" stroke-width="0.45">0</text>
<text transform="translate(161.99,593.9) scale(0.61,1)" font-size="14.6" fill="#2a2a2a" stroke="#2a2a2a" stroke-width="0.45">8</text>
<text transform="translate(169.82,593.9) scale(0.61,1)" font-size="14.6" fill="#2a2a2a" stroke="#2a2a2a" stroke-width="0.45">2</text>
<text transform="translate(176.72,593.9) scale(0.61,1)" font-size="14.6" fill="#2a2a2a" stroke="#2a2a2a" stroke-width="0.45">0</text>
<text transform="translate(183.62,593.9) scale(0.61,1)" font-size="14.6" fill="#2a2a2a" stroke="#2a2a2a" stroke-width="0.45">0</text>
<text transform="translate(190.52,593.9) scale(0.61,1)" font-size="14.6" fill="#2a2a2a" stroke="#2a2a2a" stroke-width="0.45">9</text>
<text transform="translate(198.34,593.9) scale(0.61,1)" font-size="14.6" fill="#2a2a2a" stroke="#2a2a2a" stroke-width="0.45">2</text>
<text transform="translate(205.24,593.9) scale(0.61,1)" font-size="14.6" fill="#2a2a2a" stroke="#2a2a2a" stroke-width="0.45">0</text>
<text transform="translate(212.14,593.9) scale(0.61,1)" font-size="14.6" fill="#2a2a2a" stroke="#2a2a2a" stroke-width="0.45">0</text>
<text transform="translate(219.04,593.9) scale(0.61,1)" font-size="14.6" fill="#2a2a2a" stroke="#2a2a2a" stroke-width="0.45">9</text>
<text transform="translate(226.87,593.9) scale(0.61,1)" font-size="14.6" fill="#2a2a2a" stroke="#2a2a2a" stroke-width="0.45">2</text>
<text transform="translate(233.77,593.9) scale(0.61,1)" font-size="14.6" fill="#2a2a2a" stroke="#2a2a2a" stroke-width="0.45">0</text>
<text transform="translate(240.55,593.9) scale(0.61,1)" font-size="14.6" fill="#2a2a2a" stroke="#2a2a2a" stroke-width="0.45">1</text>
<text transform="translate(247.57,593.9) scale(0.61,1)" font-size="14.6" fill="#2a2a2a" stroke="#2a2a2a" stroke-width="0.45">0</text>
<text transform="translate(255.40,593.9) scale(0.61,1)" font-size="14.6" fill="#2a2a2a" stroke="#2a2a2a" stroke-width="0.45">2</text>
<text transform="translate(262.30,593.9) scale(0.61,1)" font-size="14.6" fill="#2a2a2a" stroke="#2a2a2a" stroke-width="0.45">0</text>
<text transform="translate(269.08,593.9) scale(0.61,1)" font-size="14.6" fill="#2a2a2a" stroke="#2a2a2a" stroke-width="0.45">1</text>
<text transform="translate(276.10,593.9) scale(0.61,1)" font-size="14.6" fill="#2a2a2a" stroke="#2a2a2a" stroke-width="0.45">0</text>
<text transform="translate(283.93,593.9) scale(0.61,1)" font-size="14.6" fill="#2a2a2a" stroke="#2a2a2a" stroke-width="0.45">2</text>
<text transform="translate(290.83,593.9) scale(0.61,1)" font-size="14.6" fill="#2a2a2a" stroke="#2a2a2a" stroke-width="0.45">0</text>
<text transform="translate(297.61,593.9) scale(0.61,1)" font-size="14.6" fill="#2a2a2a" stroke="#2a2a2a" stroke-width="0.45">1</text>
<text transform="translate(304.51,593.9) scale(0.61,1)" font-size="14.6" fill="#2a2a2a" stroke="#2a2a2a" stroke-width="0.45">1</text>
<text transform="translate(312.45,593.9) scale(0.61,1)" font-size="14.6" fill="#2a2a2a" stroke="#2a2a2a" stroke-width="0.45">2</text>
<text transform="translate(319.35,593.9) scale(0.61,1)" font-size="14.6" fill="#2a2a2a" stroke="#2a2a2a" stroke-width="0.45">0</text>
<text transform="translate(326.13,593.9) scale(0.61,1)" font-size="14.6" fill="#2a2a2a" stroke="#2a2a2a" stroke-width="0.45">1</text>
<text transform="translate(333.03,593.9) scale(0.61,1)" font-size="14.6" fill="#2a2a2a" stroke="#2a2a2a" stroke-width="0.45">1</text>
<text transform="translate(340.98,593.9) scale(0.61,1)" font-size="14.6" fill="#2a2a2a" stroke="#2a2a2a" stroke-width="0.45">2</text>
<text transform="translate(347.88,593.9) scale(0.61,1)" font-size="14.6" fill="#2a2a2a" stroke="#2a2a2a" stroke-width="0.45">0</text>
<text transform="translate(354.66,593.9) scale(0.61,1)" font-size="14.6" fill="#2a2a2a" stroke="#2a2a2a" stroke-width="0.45">1</text>
<text transform="translate(361.68,593.9) scale(0.61,1)" font-size="14.6" fill="#2a2a2a" stroke="#2a2a2a" stroke-width="0.45">2</text>
<text transform="translate(369.51,593.9) scale(0.61,1)" font-size="14.6" fill="#2a2a2a" stroke="#2a2a2a" stroke-width="0.45">2</text>
<text transform="translate(376.41,593.9) scale(0.61,1)" font-size="14.6" fill="#2a2a2a" stroke="#2a2a2a" stroke-width="0.45">0</text>
<text transform="translate(383.19,593.9) scale(0.61,1)" font-size="14.6" fill="#2a2a2a" stroke="#2a2a2a" stroke-width="0.45">1</text>
<text transform="translate(390.21,593.9) scale(0.61,1)" font-size="14.6" fill="#2a2a2a" stroke="#2a2a2a" stroke-width="0.45">2</text>
<text transform="translate(398.03,593.9) scale(0.61,1)" font-size="14.6" fill="#2a2a2a" stroke="#2a2a2a" stroke-width="0.45">2</text>
<text transform="translate(404.93,593.9) scale(0.61,1)" font-size="14.6" fill="#2a2a2a" stroke="#2a2a2a" stroke-width="0.45">0</text>
<text transform="translate(411.71,593.9) scale(0.61,1)" font-size="14.6" fill="#2a2a2a" stroke="#2a2a2a" stroke-width="0.45">1</text>
<text transform="translate(418.76,593.9) scale(0.61,1)" font-size="14.6" fill="#2a2a2a" stroke="#2a2a2a" stroke-width="0.45">3</text>
<text transform="translate(426.56,593.9) scale(0.61,1)" font-size="14.6" fill="#2a2a2a" stroke="#2a2a2a" stroke-width="0.45">2</text>
<text transform="translate(433.46,593.9) scale(0.61,1)" font-size="14.6" fill="#2a2a2a" stroke="#2a2a2a" stroke-width="0.45">0</text>
<text transform="translate(440.24,593.9) scale(0.61,1)" font-size="14.6" fill="#2a2a2a" stroke="#2a2a2a" stroke-width="0.45">1</text>
<text transform="translate(447.29,593.9) scale(0.61,1)" font-size="14.6" fill="#2a2a2a" stroke="#2a2a2a" stroke-width="0.45">3</text>
<text transform="translate(455.09,593.9) scale(0.61,1)" font-size="14.6" fill="#2a2a2a" stroke="#2a2a2a" stroke-width="0.45">2</text>
<text transform="translate(461.99,593.9) scale(0.61,1)" font-size="14.6" fill="#2a2a2a" stroke="#2a2a2a" stroke-width="0.45">0</text>
<text transform="translate(468.77,593.9) scale(0.61,1)" font-size="14.6" fill="#2a2a2a" stroke="#2a2a2a" stroke-width="0.45">1</text>
<text transform="translate(475.82,593.9) scale(0.61,1)" font-size="14.6" fill="#2a2a2a" stroke="#2a2a2a" stroke-width="0.45">4</text>
<text transform="translate(483.62,593.9) scale(0.61,1)" font-size="14.6" fill="#2a2a2a" stroke="#2a2a2a" stroke-width="0.45">2</text>
<text transform="translate(490.52,593.9) scale(0.61,1)" font-size="14.6" fill="#2a2a2a" stroke="#2a2a2a" stroke-width="0.45">0</text>
<text transform="translate(497.30,593.9) scale(0.61,1)" font-size="14.6" fill="#2a2a2a" stroke="#2a2a2a" stroke-width="0.45">1</text>
<text transform="translate(504.34,593.9) scale(0.61,1)" font-size="14.6" fill="#2a2a2a" stroke="#2a2a2a" stroke-width="0.45">4</text>
<text transform="translate(512.14,593.9) scale(0.61,1)" font-size="14.6" fill="#2a2a2a" stroke="#2a2a2a" stroke-width="0.45">2</text>
<text transform="translate(519.04,593.9) scale(0.61,1)" font-size="14.6" fill="#2a2a2a" stroke="#2a2a2a" stroke-width="0.45">0</text>
<text transform="translate(525.82,593.9) scale(0.61,1)" font-size="14.6" fill="#2a2a2a" stroke="#2a2a2a" stroke-width="0.45">1</text>
<text transform="translate(532.85,593.9) scale(0.61,1)" font-size="14.6" fill="#2a2a2a" stroke="#2a2a2a" stroke-width="0.45">5</text>
<text transform="translate(540.67,593.9) scale(0.61,1)" font-size="14.6" fill="#2a2a2a" stroke="#2a2a2a" stroke-width="0.45">2</text>
<text transform="translate(547.57,593.9) scale(0.61,1)" font-size="14.6" fill="#2a2a2a" stroke="#2a2a2a" stroke-width="0.45">0</text>
<text transform="translate(554.35,593.9) scale(0.61,1)" font-size="14.6" fill="#2a2a2a" stroke="#2a2a2a" stroke-width="0.45">1</text>
<text transform="translate(561.38,593.9) scale(0.61,1)" font-size="14.6" fill="#2a2a2a" stroke="#2a2a2a" stroke-width="0.45">5</text>
<text transform="translate(569.20,593.9) scale(0.61,1)" font-size="14.6" fill="#2a2a2a" stroke="#2a2a2a" stroke-width="0.45">2</text>
<text transform="translate(576.10,593.9) scale(0.61,1)" font-size="14.6" fill="#2a2a2a" stroke="#2a2a2a" stroke-width="0.45">0</text>
<text transform="translate(582.88,593.9) scale(0.61,1)" font-size="14.6" fill="#2a2a2a" stroke="#2a2a2a" stroke-width="0.45">1</text>
<text transform="translate(589.87,593.9) scale(0.61,1)" font-size="14.6" fill="#2a2a2a" stroke="#2a2a2a" stroke-width="0.45">6</text>
<text transform="translate(597.72,593.9) scale(0.61,1)" font-size="14.6" fill="#2a2a2a" stroke="#2a2a2a" stroke-width="0.45">2</text>
<text transform="translate(604.62,593.9) scale(0.61,1)" font-size="14.6" fill="#2a2a2a" stroke="#2a2a2a" stroke-width="0.45">0</text>
<text transform="translate(611.40,593.9) scale(0.61,1)" font-size="14.6" fill="#2a2a2a" stroke="#2a2a2a" stroke-width="0.45">1</text>
<text transform="translate(618.39,593.9) scale(0.61,1)" font-size="14.6" fill="#2a2a2a" stroke="#2a2a2a" stroke-width="0.45">6</text>
<text transform="translate(626.25,593.9) scale(0.61,1)" font-size="14.6" fill="#2a2a2a" stroke="#2a2a2a" stroke-width="0.45">2</text>
<text transform="translate(633.15,593.9) scale(0.61,1)" font-size="14.6" fill="#2a2a2a" stroke="#2a2a2a" stroke-width="0.45">0</text>
<text transform="translate(639.93,593.9) scale(0.61,1)" font-size="14.6" fill="#2a2a2a" stroke="#2a2a2a" stroke-width="0.45">1</text>
<text transform="translate(646.95,593.9) scale(0.61,1)" font-size="14.6" fill="#2a2a2a" stroke="#2a2a2a" stroke-width="0.45">7</text>
<text transform="translate(654.78,593.9) scale(0.61,1)" font-size="14.6" fill="#2a2a2a" stroke="#2a2a2a" stroke-width="0.45">2</text>
<text transform="translate(661.68,593.9) scale(0.61,1)" font-size="14.6" fill="#2a2a2a" stroke="#2a2a2a" stroke-width="0.45">0</text>
<text transform="translate(668.46,593.9) scale(0.61,1)" font-size="14.6" fill="#2a2a2a" stroke="#2a2a2a" stroke-width="0.45">1</text>
<text transform="translate(675.47,593.9) scale(0.61,1)" font-size="14.6" fill="#2a2a2a" stroke="#2a2a2a" stroke-width="0.45">7</text>
<text transform="translate(683.31,593.9) scale(0.61,1)" font-size="14.6" fill="#2a2a2a" stroke="#2a2a2a" stroke-width="0.45">2</text>
<text transform="translate(690.21,593.9) scale(0.61,1)" font-size="14.6" fill="#2a2a2a" stroke="#2a2a2a" stroke-width="0.45">0</text>
<text transform="translate(696.99,593.9) scale(0.61,1)" font-size="14.6" fill="#2a2a2a" stroke="#2a2a2a" stroke-width="0.45">1</text>
<text transform="translate(704.01,593.9) scale(0.61,1)" font-size="14.6" fill="#2a2a2a" stroke="#2a2a2a" stroke-width="0.45">8</text>
<text transform="translate(711.83,593.9) scale(0.61,1)" font-size="14.6" fill="#2a2a2a" stroke="#2a2a2a" stroke-width="0.45">2</text>
<text transform="translate(718.73,593.9) scale(0.61,1)" font-size="14.6" fill="#2a2a2a" stroke="#2a2a2a" stroke-width="0.45">0</text>
<text transform="translate(725.51,593.9) scale(0.61,1)" font-size="14.6" fill="#2a2a2a" stroke="#2a2a2a" stroke-width="0.45">1</text>
<text transform="translate(732.53,593.9) scale(0.61,1)" font-size="14.6" fill="#2a2a2a" stroke="#2a2a2a" stroke-width="0.45">8</text>
<text transform="translate(740.36,593.9) scale(0.61,1)" font-size="14.6" fill="#2a2a2a" stroke="#2a2a2a" stroke-width="0.45">2</text>
<text transform="translate(747.26,593.9) scale(0.61,1)" font-size="14.6" fill="#2a2a2a" stroke="#2a2a2a" stroke-width="0.45">0</text>
<text transform="translate(754.04,593.9) scale(0.61,1)" font-size="14.6" fill="#2a2a2a" stroke="#2a2a2a" stroke-width="0.45">1</text>
<text transform="translate(761.06,593.9) scale(0.61,1)" font-size="14.6" fill="#2a2a2a" stroke="#2a2a2a" stroke-width="0.45">9</text>
<rect x="700" y="2" width="98.3" height="143.5" fill="#fff"/>
<ellipse cx="751" cy="78.1" rx="45.8" ry="68.7" fill="#1f1a5c"/>
<ellipse cx="751.3" cy="78.5" rx="33.2" ry="53.2" fill="#fff"/>
<g transform="translate(751,78.3) scale(1,1.5)">
<path id="tp" d="M-30.34 20.47 A36.6 36.6 0 1 1 30.34 20.47" fill="none"/>
<text font-size="7.5" font-weight="bold" fill="#fff" stroke="#fff" stroke-width="0.55" textLength="158.4" lengthAdjust="spacing"><textPath href="#tp">NATION’S  FOREMOST  CPA  REVIEW  INC.</textPath></text>
<polygon points="-27.20,25.90 -26.06,28.94 -22.83,29.08 -25.36,31.10 -24.50,34.22 -27.20,32.43 -29.90,34.22 -29.04,31.10 -31.57,29.08 -28.34,28.94" fill="#fff"/>
<polygon points="27.60,25.40 28.74,28.44 31.97,28.58 29.44,30.60 30.30,33.72 27.60,31.93 24.90,33.72 25.76,30.60 23.23,28.58 26.46,28.44" fill="#fff"/>
</g>
<text transform="translate(740,144.8) scale(0.62,1)" font-size="16" font-weight="bold" fill="#fff" stroke="#fff" stroke-width="0" textLength="34.3" lengthAdjust="spacing">2014</text>
<ellipse cx="751.6" cy="47.5" rx="11.6" ry="16.6" fill="none" stroke="#151515" stroke-width="1.1"/>
<path d="M753.23 48.66 L759.10 37.00 L749.97 46.34Z" fill="#1d2f72"/>
<path d="M753.23 46.34 L744.10 37.00 L749.97 48.66Z" fill="#1d2f72"/>
<path d="M749.97 48.66 L759.10 58.00 L753.23 46.34Z" fill="#1d2f72"/>
<path d="M749.97 46.34 L744.10 58.00 L753.23 48.66Z" fill="#1d2f72"/>
<path d="M754.90 47.50 L751.60 26.30 L748.30 47.50Z" fill="#19286a"/>
<path d="M751.60 50.80 L765.40 47.50 L751.60 44.20Z" fill="#19286a"/>
<path d="M748.30 47.50 L751.60 69.50 L754.90 47.50Z" fill="#19286a"/>
<path d="M751.60 44.20 L736.80 47.50 L751.60 50.80Z" fill="#19286a"/>
<path d="M753.20 47.50 L751.60 30.50 L750.00 47.50Z" fill="#3e6dc2"/>
<path d="M751.60 49.10 L762.60 47.50 L751.60 45.90Z" fill="#3e6dc2"/>
<path d="M750.00 47.50 L751.60 64.50 L753.20 47.50Z" fill="#3e6dc2"/>
<path d="M751.60 45.90 L740.10 47.50 L751.60 49.10Z" fill="#3e6dc2"/>
<path d="M746.10 47.50 Q751.60 47.50 751.60 40.50 Q751.60 47.50 757.10 47.50 Q751.60 47.50 751.60 54.50 Q751.60 47.50 746.10 47.50Z" fill="#dfe8fb" stroke="#dfe8fb" stroke-width="0.8"/>
<ellipse cx="751.6" cy="47.5" rx="2.0" ry="2.6" fill="#ffffff"/>
<line x1="751.6" y1="62.5" x2="751.6" y2="76" stroke="#8aa6dc" stroke-width="0.9"/>
<rect x="725.3" y="66" width="52.5" height="20" rx="10" ry="10" fill="#111"/>
<ellipse cx="735.5" cy="77.4" rx="6.6" ry="7.6" fill="none" stroke="#fff" stroke-width="2.3"/>
<ellipse cx="767.2" cy="77.4" rx="6.6" ry="7.6" fill="none" stroke="#fff" stroke-width="2.3"/>
<rect x="740.5" y="75.8" width="22" height="3.0" fill="#fff"/>
<line x1="751.6" y1="66" x2="751.6" y2="75.8" stroke="#e6ecfa" stroke-width="1"/>
<rect x="736.5" y="84.2" width="29" height="2" fill="#fff"/>
<rect x="731.2" y="87.6" width="40.8" height="17.6" rx="1.5" fill="#111"/>
<text transform="translate(732.2,102.8) scale(0.62,1)" font-size="16.4" font-weight="bold" fill="#fff" stroke="#fff" stroke-width="0.9" textLength="60" lengthAdjust="spacingAndGlyphs">NFCPAR</text>
<path d="M735.6 105 H768.4 L766.5 119 L764 127.6 H740 L737.5 119 Z" fill="#111"/>
<rect x="742.0" y="106" width="2.80" height="22" fill="#fff"/>
<rect x="750.0" y="106" width="2.60" height="22" fill="#fff"/>
<rect x="757.4" y="106" width="2.60" height="22" fill="#fff"/>
<ellipse cx="749.5" cy="418.5" rx="8.5" ry="13.5" fill="#ececec"/>
<ellipse cx="742.8" cy="421" rx="4.3" ry="7.6" fill="#4a3b8c" stroke="#2f2570" stroke-width="0.8" transform="rotate(-8 742.8 421)"/>
<ellipse cx="741.8" cy="417.5" rx="1.6" ry="3" fill="#7f72c4" transform="rotate(-8 741.8 417.5)"/>
<path d="M732.4 413.6 Q746 411 758.6 396.4 Q747 407.5 732.4 413.6Z" fill="#111" stroke="#111" stroke-width="1.6" stroke-linejoin="round"/>
<path d="M744.6 437.3 C745.8 441 747.2 443.5 747.2 446.2 A2.6 2.6 0 0 1 742 446.2 C742 443.5 743.4 441 744.6 437.3Z" fill="#1f9fe0"/>
<path d="M769.5 400 Q782 410 791 413 L790 424 Q787 432 779 432.5 Q770 431 769.5 420Z" fill="#ececec"/>
<ellipse cx="774.8" cy="420.8" rx="4.3" ry="7.9" fill="#4a3b8c" stroke="#2f2570" stroke-width="0.8" transform="rotate(-8 774.8 420.8)"/>
<ellipse cx="773.8" cy="417.3" rx="1.6" ry="3" fill="#7f72c4" transform="rotate(-8 773.8 417.3)"/>
<path d="M768.2 396.8 Q780 409.5 795.2 413.6 Q781 406 768.2 396.8Z" fill="#111" stroke="#111" stroke-width="1.6" stroke-linejoin="round"/>
<path d="M771.8 428.2 Q776 433.8 781 434 Q786 433.8 789.3 426.2" fill="none" stroke="#1f9fe0" stroke-width="1.6" stroke-linecap="round"/>
<path d="M779.6 433 H783 C783 437 784.8 440.5 784.8 444 A2.9 2.9 0 0 1 779 444 C779 440.5 779.6 437 779.6 433Z" fill="#1f9fe0"/>
<path d="M782.6 454 C783.6 457.5 784.9 460 784.9 462.8 A2.4 2.4 0 0 1 780.1 462.8 C780.1 460 781.4 457.5 782.6 454Z" fill="#1f9fe0"/>
</svg></body></html>
